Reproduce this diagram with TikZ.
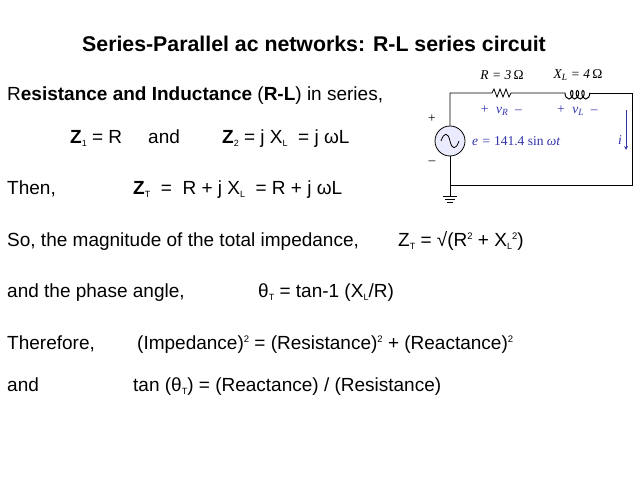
\documentclass[tikz,border=0pt]{standalone}
\usepackage{fontspec}
\setmainfont{Liberation Sans}
\newfontfamily\serifo{Liberation Serif}
\newcommand\sbs[1]{\raisebox{-0.35ex}{\fontsize{9}{10}\selectfont #1}}
\newcommand\sps[1]{\raisebox{0.6ex}{\fontsize{9.5}{10}\selectfont #1}}
\begin{document}
\begin{tikzpicture}[x=1pt,y=-1pt,
  txt/.style={anchor=base west,inner sep=0pt,font=\fontsize{19}{20}\selectfont},
  lbl/.style={inner sep=0pt,font=\serifo\fontsize{13.5}{14}\selectfont\itshape},
  blbl/.style={lbl,text=blue!60!black!80},
  wire/.style={line width=0.8pt}]
\useasboundingbox (0,0) rectangle (638,479);
\node[txt,font=\bfseries\fontsize{21.3}{22}\selectfont] (t0) at (82,52) {Series-Parallel ac networks: R-L series circuit};
\node[txt] (t1) at (7,100) {R\textbf{esistance and Inductance} (\textbf{R-L}) in series,};
\node[txt] (t2a) at (70,143) {\textbf{Z}\sbs{1} = R};
\node[txt] (t2b) at (148,143) {and};
\node[txt] (t2c) at (222,143) {\textbf{Z}\sbs{2} = j X\sbs{L}\ \ = j ωL};
\node[txt] (t3a) at (7,194) {Then,};
\node[txt] (t3b) at (133,194) {\textbf{Z}\sbs{T}\ \ =\ \ R + j X\sbs{L}\ \ = R + j ωL};
\node[txt] (t4a) at (7,246) {So, the magnitude of the total impedance,};
\node[txt] (t4b) at (398,246) {Z\sbs{T} = √(R\sps{2} + X\sbs{L}\sps{2})};
\node[txt] (t5a) at (7,297) {and the phase angle,};
\node[txt] (t5b) at (258,297) {θ\sbs{T} = tan-1 (X\sbs{L}/R)};
\node[txt] (t6a) at (7,349) {Therefore,};
\node[txt] (t6b) at (137,349) {(Impedance)\sps{2} = (Resistance)\sps{2} + (Reactance)\sps{2}};
\node[txt] (t7a) at (7,391) {and};
\node[txt] (t7b) at (133,391) {tan (θ\sbs{T}) = (Reactance) / (Resistance)};
% circuit
\coordinate (tl) at (450,93); \coordinate (tr) at (632,93);
\coordinate (bl) at (450,185); \coordinate (br) at (632,185);
\node[circle,draw,wire,fill=blue!8,minimum size=30pt,inner sep=0pt] (src) at (450,141) {};
\draw[wire] (src.north) -- (tl) -- (492,93) -- (494,89) -- (497,97) -- (500,89) -- (503,97) -- (506,89) -- (509,97) -- (511,93) -- (565,93);
\draw[line width=1pt] (565,93) arc (180:0:4 and 6) arc (360:180:1.2 and 2.5) arc (180:0:4 and 6) arc (360:180:1.2 and 2.5) arc (180:0:4 and 6) arc (360:180:1.2 and 2.5) arc (180:0:4 and 6);
\draw[wire] (589.8,93) -- (tr) -- (br) -- (bl) -- (src.south);
\draw[wire] (441,141) .. controls (444,132) and (448,132) .. (450,141) .. controls (452,150) and (456,150) .. (459,141);
\draw[wire] (bl) -- (450,196);
\draw[wire] (443,196) -- (457,196) (445,199) -- (455,199) (447,202) -- (453,202);
\node[lbl] (rl) at (502,75) {\textit{R} = 3\,\textup{Ω}};
\node[lbl] (xl) at (578,75) {\textit{X\textsubscript{L}} = 4\,\textup{Ω}};
\node[blbl] (vr) at (501,111) {+\ \ \textit{v\textsubscript{R}}\ \ \textup{–}};
\node[blbl] (vl) at (577,111) {+\ \ \textit{v\textsubscript{L}}\ \ \textup{–}};
\node[blbl,anchor=west] (e) at (472,141) {\textit{e} = \textup{141.4 sin} ωt};
\node[lbl] (pl) at (432,119) {\textup{+}};
\node[lbl] (mn) at (432,163) {\textup{–}};
\node[blbl] (il) at (620,140) {\textit{i}};
\coordinate (ia) at (626,110); \coordinate (ib) at (626,150);
\draw[blue!60!black!80,line width=0.8pt,-stealth] (ia) -- (ib);
\end{tikzpicture}
\end{document}
